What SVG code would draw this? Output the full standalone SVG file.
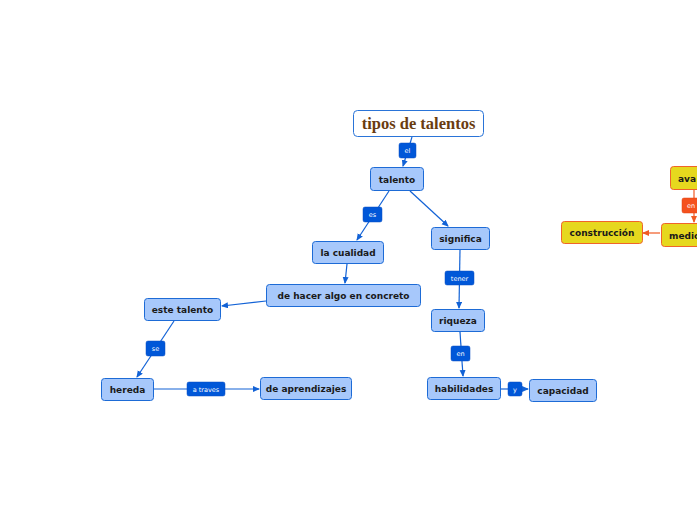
<svg xmlns="http://www.w3.org/2000/svg" width="697" height="520" viewBox="0 0 697 520">
<defs>
<marker id="ab" markerWidth="8" markerHeight="8" refX="6" refY="3" orient="auto" markerUnits="userSpaceOnUse"><path d="M0,0 L7,3 L0,6 z" fill="#1262d6"/></marker>
<marker id="ao" markerWidth="8" markerHeight="8" refX="6" refY="3" orient="auto" markerUnits="userSpaceOnUse"><path d="M0,0 L7,3 L0,6 z" fill="#f05a24"/></marker>
</defs>
<style>
.n rect{fill:#a7c8fb;stroke:#1d6bd6;stroke-width:1}
.n text{font-family:"DejaVu Sans",sans-serif;font-weight:bold;font-size:9px;fill:#1a1a1a;text-anchor:middle}
.y rect{fill:#e6d81e;stroke:#f0642a;stroke-width:1}
.y text{font-family:"DejaVu Sans",sans-serif;font-weight:bold;font-size:9px;fill:#1a1a1a;text-anchor:middle}
.c line{stroke:#1262d6;stroke-width:1.2;marker-end:url(#ab)}
.c line.o{stroke:#f05a24;marker-end:url(#ao)}
.l rect{fill:#0057d8;stroke:#0a4fc0;stroke-width:0.5}
.l text{font-family:"DejaVu Sans",sans-serif;font-size:6.5px;fill:#ffffff;text-anchor:middle}
.l.or rect{fill:#f4511e;stroke:#e04010}
</style>
<rect width="697" height="520" fill="#ffffff"/>
<g id="connectors" class="c">
<line x1="412" y1="137" x2="403" y2="166"/>
<line x1="389" y1="191" x2="357" y2="240"/>
<line x1="410" y1="191" x2="448" y2="226"/>
<line x1="347" y1="264" x2="345" y2="283"/>
<line x1="266" y1="301" x2="222" y2="306"/>
<line x1="174" y1="321" x2="137" y2="377"/>
<line x1="154" y1="389" x2="259" y2="389"/>
<line x1="460" y1="250" x2="459" y2="308"/>
<line x1="460" y1="332" x2="463" y2="376"/>
<line x1="501" y1="389" x2="528" y2="389"/>
<line class="o" x1="694" y1="190" x2="694" y2="222"/>
<line class="o" x1="660" y1="233" x2="643" y2="233"/>
</g>
<g id="labels">
<g class="l"><rect x="399" y="143" width="17" height="15" rx="2"/><text x="407.5" y="153">el</text></g>
<g class="l"><rect x="363" y="207" width="19" height="15" rx="2"/><text x="372.5" y="217">es</text></g>
<g class="l"><rect x="146" y="341" width="19" height="15" rx="2"/><text x="155.5" y="351">se</text></g>
<g class="l"><rect x="187" y="382" width="38" height="14" rx="2"/><text x="206" y="391.5">a traves</text></g>
<g class="l"><rect x="445" y="271" width="29" height="14" rx="2"/><text x="459.5" y="280.5">tener</text></g>
<g class="l"><rect x="451" y="346" width="19" height="15" rx="2"/><text x="460.5" y="356">en</text></g>
<g class="l"><rect x="508" y="382" width="14" height="14" rx="2"/><text x="515" y="391.5">y</text></g>
<g class="l or"><rect x="682" y="198" width="20" height="15" rx="2"/><text x="691" y="208">en</text></g>
</g>
<g id="tipos-de-talentos"><rect x="353.5" y="110.5" width="130" height="26" rx="4" fill="#ffffff" stroke="#2a74d8" stroke-width="1"/><text x="418.5" y="128.5" font-family="Liberation Serif, serif" font-weight="bold" font-size="16.5" fill="#6a3c10" text-anchor="middle">tipos de talentos</text></g>
<g id="talento" class="n"><rect x="370.5" y="167.5" width="53" height="23" rx="3"/><text x="397" y="182.5">talento</text></g>
<g id="significa" class="n"><rect x="431.5" y="227.5" width="58" height="22" rx="3"/><text x="460.5" y="242">significa</text></g>
<g id="la-cualidad" class="n"><rect x="312.5" y="241.5" width="71" height="22" rx="3"/><text x="348" y="256">la cualidad</text></g>
<g id="de-hacer-algo" class="n"><rect x="266.5" y="284.5" width="154" height="22" rx="3"/><text x="343.5" y="299">de hacer algo en concreto</text></g>
<g id="este-talento" class="n"><rect x="144.5" y="298.5" width="76" height="22" rx="3"/><text x="182.5" y="313">este talento</text></g>
<g id="hereda" class="n"><rect x="101.5" y="378.5" width="52" height="22" rx="3"/><text x="127.5" y="393">hereda</text></g>
<g id="de-aprendizajes" class="n"><rect x="260.5" y="377.5" width="91" height="22" rx="3"/><text x="306" y="392">de aprendizajes</text></g>
<g id="riqueza" class="n"><rect x="431.5" y="309.5" width="53" height="22" rx="3"/><text x="458" y="324">riqueza</text></g>
<g id="habilidades" class="n"><rect x="427.5" y="377.5" width="73" height="22" rx="3"/><text x="464" y="392">habilidades</text></g>
<g id="capacidad" class="n"><rect x="529.5" y="379.5" width="67" height="22" rx="3"/><text x="563" y="394">capacidad</text></g>
<g id="avance" class="y"><rect x="670.5" y="166.5" width="40" height="23" rx="3"/><text x="678" y="181.5" style="text-anchor:start">ava</text></g>
<g id="medio" class="y"><rect x="661.5" y="223.5" width="50" height="23" rx="3"/><text x="669" y="238.5" style="text-anchor:start">medio</text></g>
<g id="construccion" class="y"><rect x="561.5" y="221.5" width="81" height="22" rx="3"/><text x="602" y="236">construcción</text></g>
</svg>
